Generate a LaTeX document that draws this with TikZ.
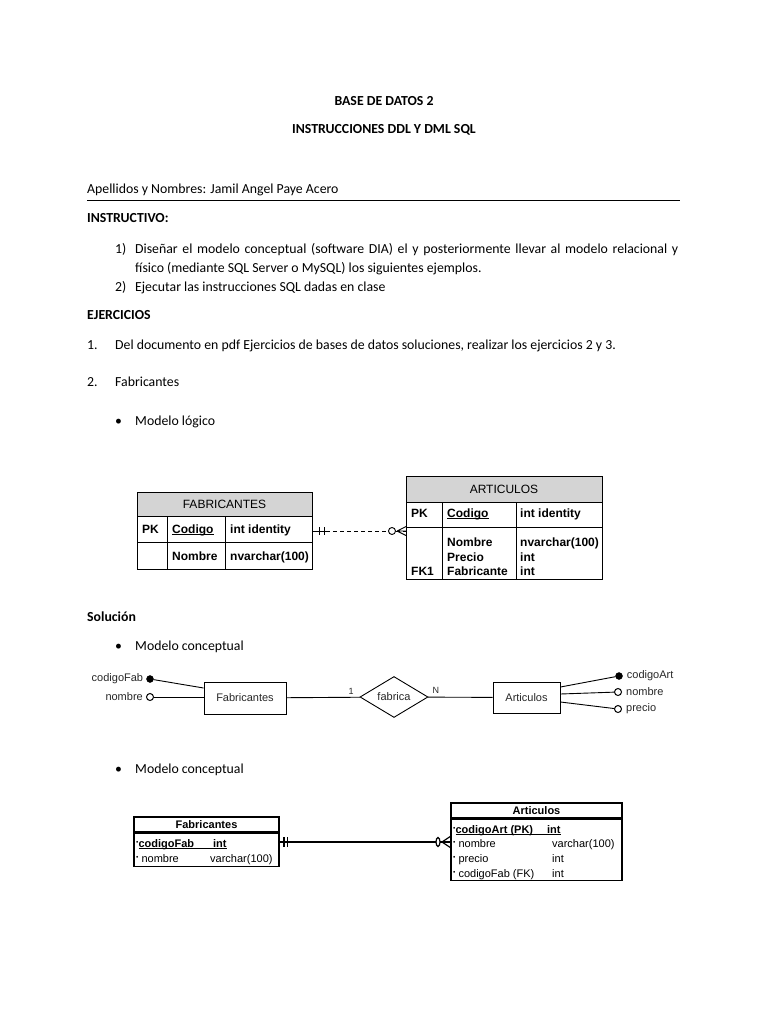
\documentclass[tikz,border=0pt]{standalone}
\usepackage{fontspec}
\setmainfont{Carlito}
\newfontfamily\arialfont{Liberation Sans}
\usepackage{tikz}
\usetikzlibrary{shapes.geometric, positioning}
\definecolor{hdrgray}{RGB}{212,212,212}
\definecolor{diagray}{RGB}{40,40,40}

\newcommand{\smalldot}{\raisebox{2.5pt}{\scalebox{0.6}{\textbullet}}}
\newlength{\ulwd}
\newcommand{\baseul}[1]{\settowidth{\ulwd}{#1}\rlap{\rule[-1.6pt]{\ulwd}{0.8pt}}#1}

\begin{document}
\begin{tikzpicture}[
    x=1pt, y=-1pt,
    txt/.style={anchor=base west, inner sep=0pt, font=\fontsize{13.8}{16}\selectfont},
    title/.style={txt, anchor=base, font=\bfseries\fontsize{13.8}{16}\selectfont},
    head/.style={txt, font=\bfseries\fontsize{13.8}{16}\selectfont},
    cell/.style={anchor=base west, inner sep=0pt, font=\arialfont\bfseries\fontsize{12}{14}\selectfont},
    thead/.style={draw, line width=0.8pt, fill=hdrgray, inner sep=0pt, font=\arialfont\fontsize{12}{14}\selectfont},
    tbody/.style={draw, line width=0.8pt, inner sep=0pt},
    entity/.style={rectangle, draw, line width=0.9pt, inner sep=0pt, font=\arialfont\fontsize{11}{13}\selectfont, text=diagray},
    relation/.style={diamond, draw, line width=0.9pt, inner sep=0pt, font=\arialfont\fontsize{11}{13}\selectfont, text=diagray},
    keydot/.style={circle, draw, fill=black, inner sep=0pt, minimum size=7pt},
    attdot/.style={circle, draw, fill=white, line width=1pt, inner sep=0pt, minimum size=7pt},
    attr/.style={inner sep=0pt, font=\arialfont\fontsize{11}{13}\selectfont, text=diagray},
    uhead/.style={draw, line width=1.4pt, inner sep=0pt, font=\arialfont\bfseries\fontsize{11}{13}\selectfont},
    ubody/.style={draw, line width=1.4pt, inner sep=0pt},
    urow/.style={anchor=base west, inner sep=0pt, font=\arialfont\fontsize{11}{13}\selectfont},
    erline/.style={line width=0.9pt},
]

\fill[white] (0,0) rectangle (768,1024);
\useasboundingbox (0,0) rectangle (768,1024);

% Header of the page
\node[title] (t1) at (384,105.5) {BASE DE DATOS 2};
\node[title] (t2) at (384,133.5) {INSTRUCCIONES DDL Y DML SQL};
\node[txt] (name) at (87,193.5) {Apellidos y Nombres: Jamil Angel Paye Acero};
\draw[line width=0.9pt] (87,200) -- (680,200);

% Instructivo
\node[head] (instr) at (87,222.5) {INSTRUCTIVO:};
\node[txt] (n1) at (115,253.5) {1)};
\node[txt] (i1a) at (135,253.5) {\makebox[543pt][s]{Diseñar el modelo conceptual (software DIA) el y posteriormente llevar al modelo relacional y}};
\node[txt] (i1b) at (135,272.5) {físico (mediante SQL Server o MySQL) los siguientes ejemplos.};
\node[txt] (n2) at (115,291.5) {2)};
\node[txt] (i2) at (135,291.5) {Ejecutar las instrucciones SQL dadas en clase};

% Ejercicios
\node[head] (ejer) at (87,319.5) {EJERCICIOS};
\node[txt] (e1n) at (87,349.5) {1.};
\node[txt] (e1) at (115,349.5) {Del documento en pdf Ejercicios de bases de datos soluciones, realizar los ejercicios 2 y 3.};
\node[txt] (e2n) at (87,386.5) {2.};
\node[txt] (e2) at (115,386.5) {Fabricantes};
\node[txt] (b1) at (115,425.5) {\textbullet};
\node[txt] (logico) at (135,425.5) {Modelo lógico};

% Modelo logico: FABRICANTES
\node[thead, minimum width=175pt, minimum height=24pt] (fabhead) at (224.5,504) {FABRICANTES};
\node[tbody, minimum width=175pt, minimum height=53pt, anchor=north] (fabbody) at (fabhead.south) {};
\draw[line width=0.8pt] (137,542) -- (312,542);
\draw[line width=0.8pt] (167,516) -- (167,569) (225,516) -- (225,569);
\node[cell] (fpk) at (142,533) {PK};
\node[cell] (fcod) at (172,533) {\baseul{Codigo}};
\node[cell] (fcodt) at (230,533) {int identity};
\node[cell] (fnom) at (172,560) {Nombre};
\node[cell] (fnomt) at (230,560) {nvarchar(100)};

% Modelo logico: ARTICULOS
\node[thead, minimum width=196pt, minimum height=26pt] (arthead) at (504,489) {ARTICULOS};
\node[tbody, minimum width=196pt, minimum height=77pt, anchor=north] (artbody) at (arthead.south) {};
\draw[line width=0.8pt] (406,527) -- (602,527);
\draw[line width=0.8pt] (442,502) -- (442,579) (516,502) -- (516,579);
\node[cell] (apk) at (411,517) {PK};
\node[cell] (acod) at (447,517) {\baseul{Codigo}};
\node[cell] (acodt) at (520,517) {int identity};
\node[cell] (anom) at (447,546) {Nombre};
\node[cell] (anomt) at (520,546) {nvarchar(100)};
\node[cell] (apre) at (447,561) {Precio};
\node[cell] (apret) at (520,561) {int};
\node[cell] (afk) at (411,575.5) {FK1};
\node[cell] (afab) at (447,575.5) {Fabricante};
\node[cell] (afabt) at (520,575.5) {int};

% relacion con crow's foot
\coordinate (fabR) at (312,531);
\coordinate (artL) at (406,531);
\draw[erline, dash pattern=on 4pt off 3pt] (fabR) -- (artL);
\draw[erline] (fabR) -- ++(14,0);
\draw[erline] (319,527) -- (319,535) (324,527) -- (324,535);
\draw[erline, fill=white] (392,531) circle (3.5pt);
\draw[erline] (397,531) -- (artL) (397,531) -- (406,526.5) (397,531) -- (406,535.5);

% Solucion
\node[head] (sol) at (87,621.5) {Solución};
\node[txt] (b2) at (115,650.5) {\textbullet};
\node[txt] (conc1) at (135,650.5) {Modelo conceptual};

% Modelo conceptual (DIA)
\node[entity, minimum width=82pt, minimum height=32pt] (fabc) at (245,698) {Fabricantes};
\node[relation, minimum width=68pt, minimum height=41pt, aspect=1.66] (fabrica) at (394,697) {fabrica};
\node[entity, minimum width=67pt, minimum height=31pt] (artc) at (526.5,697.5) {Articulos};

\node[keydot] (kfab) at (150,679) {};
\node[attdot] (afabn) at (150,697) {};
\node[attr, left=3pt of kfab] (lkfab) {codigoFab};
\node[attr, left=3pt of afabn] (lafabn) {nombre};

\node[keydot] (kart) at (619,676) {};
\node[attdot] (aartn) at (618,692) {};
\node[attdot] (aartp) at (618,709) {};
\node[attr, right=4pt of kart] (lkart) {codigoArt};
\node[attr, right=4pt of aartn] (laartn) {nombre};
\node[attr, right=4pt of aartp] (laartp) {precio};

\draw[erline] (kfab) -- ([yshift=10pt]fabc.west);
\draw[erline] (afabn) -- (fabc.west |- afabn);
\draw[erline] (fabc) -- node[attr, pos=0.88, above=2pt, font=\arialfont\fontsize{9}{11}\selectfont] {1} (fabrica);
\draw[erline] (fabrica) -- node[attr, pos=0.12, above=3pt, font=\arialfont\fontsize{9}{11}\selectfont] {N} (artc);
\draw[erline] ([yshift=10.5pt]artc.east) -- (kart);
\draw[erline] ([yshift=3.5pt]artc.east) -- (aartn);
\draw[erline] ([yshift=-4.5pt]artc.east) -- (aartp);

\node[txt] (b3) at (115,773.5) {\textbullet};
\node[txt] (conc2) at (135,773.5) {Modelo conceptual};

% Modelo relacional: Fabricantes
\node[uhead, minimum width=145pt, minimum height=15pt] (fabuh) at (206.5,824.5) {Fabricantes};
\node[ubody, minimum width=145pt, minimum height=33pt, anchor=north] (fabub) at (fabuh.south) {};
\node[urow] (fr1) at (136,847) {\smalldot\bfseries\baseul{\makebox[88pt][l]{codigoFab\hfill int}}};
\node[urow] (fr2) at (136,862) {\smalldot\ nombre};
\node[urow] (fr2t) at (210,862) {varchar(100)};

% Modelo relacional: Articulos
\node[uhead, minimum width=171pt, minimum height=15pt] (artuh) at (536.5,810.5) {Articulos};
\node[ubody, minimum width=171pt, minimum height=61pt, anchor=north] (artub) at (artuh.south) {};
\node[urow] (ar1) at (453,833) {\smalldot\bfseries\baseul{\makebox[105pt][l]{codigoArt (PK)\hfill int}}};
\node[urow] (ar2) at (453,847) {\smalldot\ nombre};
\node[urow] (ar2t) at (552,847) {varchar(100)};
\node[urow] (ar3) at (453,862) {\smalldot\ precio};
\node[urow] (ar3t) at (552,862) {int};
\node[urow] (ar4) at (453,877) {\smalldot\ codigoFab (FK)};
\node[urow] (ar4t) at (552,877) {int};

\coordinate (fabR2) at (279,842);
\coordinate (artL2) at (451,842);
\draw[line width=1.5pt] (fabR2) -- (artL2);
\draw[line width=1.2pt] (284,837) -- (284,847) (287.5,837) -- (287.5,847);
\draw[line width=1.2pt, fill=white] (438,842) ellipse (2pt and 4.5pt);
\draw[line width=1.2pt] (442,842) -- (451,836) (442,842) -- (451,848);

\end{tikzpicture}
\end{document}
